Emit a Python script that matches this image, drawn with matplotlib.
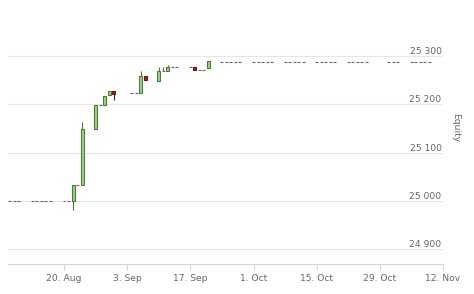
#!/usr/bin/env python3
"""Daily equity candlestick chart, Aug - Nov 2012."""

import numpy as np
import matplotlib
matplotlib.use('Agg')
import matplotlib.pyplot as plt
import matplotlib.dates as mdates
import pandas as pd

plt.rcParams['font.family'] = 'DejaVu Sans'

# ---------------------------------------------------------------------------
#  DATA (weekdays, no Labor Day / Sandy closures)
# ---------------------------------------------------------------------------
dates = ['2012-08-08', '2012-08-09', '2012-08-10',
         '2012-08-13', '2012-08-14', '2012-08-15', '2012-08-16', '2012-08-17',
         '2012-08-20', '2012-08-21', '2012-08-22', '2012-08-23', '2012-08-24',
         '2012-08-27', '2012-08-28', '2012-08-29', '2012-08-30', '2012-08-31',
         '2012-09-04', '2012-09-05', '2012-09-06', '2012-09-07',
         '2012-09-10', '2012-09-11', '2012-09-12', '2012-09-13', '2012-09-14',
         '2012-09-17', '2012-09-18', '2012-09-19', '2012-09-20', '2012-09-21',
         '2012-09-24', '2012-09-25', '2012-09-26', '2012-09-27', '2012-09-28',
         '2012-10-01', '2012-10-02', '2012-10-03', '2012-10-04', '2012-10-05',
         '2012-10-08', '2012-10-09', '2012-10-10', '2012-10-11', '2012-10-12',
         '2012-10-15', '2012-10-16', '2012-10-17', '2012-10-18', '2012-10-19',
         '2012-10-22', '2012-10-23', '2012-10-24', '2012-10-25', '2012-10-26',
         '2012-10-31', '2012-11-01', '2012-11-02',
         '2012-11-05', '2012-11-06', '2012-11-07', '2012-11-08', '2012-11-09']

opens = [25000, 25000, 25000,
         25000, 25000, 25000, 25000, 25000,
         25000, 25000, 25000, 25033, 25034,
         25148, 25199, 25199, 25219, 25228,
         25223, 25223, 25223, 25259,
         25248, 25269, 25269, 25277, 25277,
         25277, 25277, 25270, 25270, 25276,
         25288, 25288, 25288, 25288, 25288,
         25288, 25288, 25288, 25288, 25288,
         25288, 25288, 25288, 25288, 25288,
         25288, 25288, 25288, 25288, 25288,
         25288, 25288, 25288, 25288, 25288,
         25288, 25288, 25288,
         25288, 25288, 25288, 25288, 25288]

highs = [25000, 25000, 25000,
         25000, 25000, 25000, 25000, 25000,
         25000, 25000, 25033, 25033, 25164,
         25199, 25199, 25218, 25228, 25228,
         25223, 25223, 25268, 25259,
         25278, 25278, 25281, 25277, 25277,
         25277, 25277, 25270, 25270, 25290,
         25288, 25288, 25288, 25288, 25288,
         25288, 25288, 25288, 25288, 25288,
         25288, 25288, 25288, 25288, 25288,
         25288, 25288, 25288, 25288, 25288,
         25288, 25288, 25288, 25288, 25288,
         25288, 25288, 25288,
         25288, 25288, 25288, 25288, 25288]

lows = [25000, 25000, 25000,
        25000, 25000, 25000, 25000, 25000,
        25000, 25000, 24981, 25033, 25034,
        25148, 25199, 25199, 25219, 25209,
        25223, 25223, 25223, 25250,
        25248, 25269, 25269, 25277, 25277,
        25277, 25270, 25270, 25270, 25276,
        25288, 25288, 25288, 25288, 25288,
        25288, 25288, 25288, 25288, 25288,
        25288, 25288, 25288, 25288, 25288,
        25288, 25288, 25288, 25288, 25288,
        25288, 25288, 25288, 25288, 25288,
        25288, 25288, 25288,
        25288, 25288, 25288, 25288, 25288]

closes = [25000, 25000, 25000,
          25000, 25000, 25000, 25000, 25000,
          25000, 25000, 25033, 25033, 25148,
          25199, 25199, 25218, 25228, 25222,
          25223, 25223, 25259, 25250,
          25269, 25269, 25277, 25277, 25277,
          25277, 25270, 25270, 25270, 25290,
          25288, 25288, 25288, 25288, 25288,
          25288, 25288, 25288, 25288, 25288,
          25288, 25288, 25288, 25288, 25288,
          25288, 25288, 25288, 25288, 25288,
          25288, 25288, 25288, 25288, 25288,
          25288, 25288, 25288,
          25288, 25288, 25288, 25288, 25288]

y_ticks = [24900, 25000, 25100, 25200, 25300]
x_ticks = ['2012-08-20', '2012-09-03', '2012-09-17', '2012-10-01',
           '2012-10-15', '2012-10-29', '2012-11-12']

# ---------------------------------------------------------------------------
#  STYLE
# ---------------------------------------------------------------------------
UP_FILL = '#9fd18a'
UP_EDGE = '#4e7a3c'
DOWN_FILL = '#b3261e'
DOWN_EDGE = '#5a1a14'
FLAT_COLOR = '#666666'
GRID = '#e6e6e6'
AXIS = '#ccd6eb'
LABEL = '#666666'

W, H = 474, 294
fig = plt.figure(figsize=(W / 100, H / 100), dpi=100)
fig.patch.set_facecolor('white')

left, right, top, bottom = 8, 443, 10, 264
ax = fig.add_axes([left / W, (H - bottom) / H, (right - left) / W, (bottom - top) / H])

x = mdates.date2num(pd.to_datetime(dates))
o = np.array(opens, float)
h = np.array(highs, float)
l = np.array(lows, float)
c = np.array(closes, float)

body_w = 0.66  # days

for xi, oi, hi, li, ci in zip(x, o, h, l, c):
    if ci > oi:
        fill, edge = UP_FILL, UP_EDGE
    elif ci < oi:
        fill, edge = DOWN_FILL, DOWN_EDGE
    else:
        fill, edge = None, FLAT_COLOR
    lo_b, hi_b = min(oi, ci), max(oi, ci)
    if hi > hi_b:
        ax.vlines(xi, hi_b, hi, color=edge, lw=0.8, zorder=3)
    if li < lo_b:
        ax.vlines(xi, li, lo_b, color=edge, lw=0.8, zorder=3)
    if fill is None:
        ax.hlines(oi, xi - body_w / 2, xi + body_w / 2, color=edge, lw=0.8, zorder=3)
    else:
        ax.bar(xi, hi_b - lo_b, bottom=lo_b, width=body_w, color=fill,
               edgecolor=edge, linewidth=0.8, zorder=4)

# axes limits: 4.512 px per day, 48.33 px per 100 units
px_day = (443 - 64) / 84.0
x_nov12 = mdates.date2num(pd.Timestamp('2012-11-12'))
ax.set_xlim(x_nov12 - (right - left) / px_day, x_nov12)
px_val = 145 / 300.0
ax.set_ylim(25000 - (bottom - 201) / px_val, 25000 + (201 - top) / px_val)

ax.set_xticks(mdates.date2num(pd.to_datetime(x_ticks)))
ax.xaxis.set_major_formatter(mdates.DateFormatter('%-d. %b'))
ax.set_yticks(y_ticks)
ax.set_yticklabels([f'{v:,}'.replace(',', ' ') for v in y_ticks])

ax.grid(True, axis='y', color=GRID, lw=0.8, zorder=0)
ax.set_axisbelow(True)
for s in ['top', 'right', 'left']:
    ax.spines[s].set_visible(False)
ax.spines['bottom'].set_color(AXIS)
ax.spines['bottom'].set_linewidth(0.8)

ax.tick_params(axis='x', direction='out', length=4, width=0.8, color=AXIS,
               labelcolor=LABEL, labelsize=6.6, pad=3)
ax.tick_params(axis='y', length=0, left=False, right=False,
               labelleft=False, labelright=True, pad=-1,
               labelcolor=LABEL, labelsize=6.6)
for lbl in ax.get_yticklabels():
    lbl.set_ha('right')
    lbl.set_va('bottom')

fig.text(456 / W, 1 - 128 / H, 'Equity', rotation=270, ha='center', va='center',
         fontsize=6.6, color=LABEL)

fig.savefig('out.png', dpi=100, facecolor='white')
